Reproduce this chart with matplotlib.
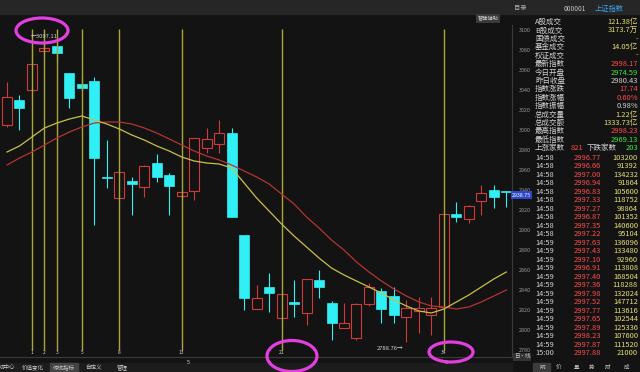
import matplotlib
matplotlib.use("Agg")
import matplotlib.pyplot as plt
from matplotlib.patches import Rectangle, Ellipse
from matplotlib.transforms import blended_transform_factory

plt.rcParams['font.family'] = ['Noto Sans CJK SC', 'DejaVu Sans']

# daily candles, index relative to the fibonacci base day
days = list(range(-1, 40))
opens = [3006, 3031, 3041, 3080, 3085, 3058, 3047, 3050, 2954, 2933,
         2950, 2944, 2968, 2956, 2935, 2940, 2983, 2987, 2998, 2896,
         2822, 2844, 2813, 2829, 2818, 2851, 2828, 2803, 2793, 2827,
         2840, 2835, 2814, 2820, 2816, 2824, 2917, 2912, 2930, 2941, 2939]
highs = [3049, 3036, 3097.11, 3090, 3088, 3058, 3054, 3054, 2991, 2962,
         2954, 2966, 2977, 2958, 2940, 2993, 3003, 3011, 3003, 2896,
         2846, 2858, 2837, 2851, 2852, 2861, 2830, 2828, 2828, 2848,
         2843, 2844, 2831, 2834, 2834, 2917, 2929, 2926, 2946, 2946, 2940]
lows = [3004, 3001, 3040, 3078, 3069, 3023, 3040, 2906, 2943, 2928,
        2916, 2934, 2949, 2916, 2932, 2931, 2978, 2978, 2914, 2821,
        2822, 2819, 2810, 2814, 2806, 2833, 2791, 2803, 2791, 2825,
        2808, 2808, 2788.76, 2798, 2796, 2822, 2909, 2908, 2916, 2923, 2924]
closes = [3034, 3023, 3067, 3083, 3078, 3033, 3043, 2973, 2953, 2959,
          2947, 2965, 2954, 2945, 2939, 2993, 2992, 2998, 2914, 2833,
          2833, 2838, 2837, 2827, 2852, 2844, 2808, 2808, 2827, 2844,
          2822, 2816, 2823, 2823, 2823, 2917, 2914, 2925, 2938, 2934, 2938.75]

ma_short = [2979, 2985, 2994, 3003, 3008, 3012, 3015, 3011, 3007, 3002,
            2996, 2991, 2985, 2980, 2974, 2970, 2968, 2967, 2963, 2948,
            2933, 2920, 2907, 2895, 2884, 2873, 2863, 2856, 2850, 2844,
            2838, 2831, 2825, 2820, 2818, 2822, 2829, 2836, 2844, 2852, 2859]
ma_long = [2966, 2973, 2979, 2986, 2993, 2999, 3004, 3008, 3009, 3009,
           3007, 3003, 2998, 2992, 2986, 2980, 2975, 2971, 2966, 2960,
           2954, 2947, 2937, 2927, 2914, 2903, 2891, 2881, 2869, 2859,
           2850, 2842, 2835, 2829, 2825, 2824, 2822, 2824, 2829, 2835, 2841]

fib_days = [1, 2, 3, 5, 8, 13, 21, 34]
price_ticks = list(range(3100, 2770, -20))
month_marks = [(13.5, '5'), (34.2, '6')]

info_labels = ['A股成交', 'B股成交', '国债成交', '基金成交', '权证成交', '最新指数',
               '今日开盘', '昨日收盘', '指数涨跌', '指数涨幅', '指数振幅', '总成交量',
               '总成交额', '最高指数', '最低指数']
info_values = ['121.38亿', '3173.7万', '-', '14.05亿', '-', '2998.17', '2974.59',
               '2980.43', '17.74', '0.60%', '0.98%', '1.22亿', '1333.73亿',
               '2998.23', '2969.13']
info_kinds = ['v', 'v', 'v', 'v', 'v', 'up', 'dn', 'n', 'up', 'up', 'n', 'v', 'v', 'up', 'dn']

tick_times = ['14:58'] * 10 + ['14:59'] * 13 + ['15:00']
tick_prices = ['2996.77', '2996.66', '2997.00', '2996.94', '2996.83', '2997.33',
               '2997.27', '2996.87', '2997.35', '2997.22', '2997.63', '2997.43',
               '2997.10', '2996.91', '2997.40', '2997.36', '2997.98', '2997.52',
               '2997.77', '2997.65', '2997.89', '2998.23', '2997.87', '2997.88']
tick_vols = ['103200', '91392', '134232', '91864', '105600', '118752', '98864',
             '101352', '140600', '95104', '136096', '133480', '92960', '113808',
             '168504', '118288', '132024', '147712', '113616', '102544', '125336',
             '107600', '111520', '21000']

W, H = 640, 372
BG = '#131313'
CYAN = '#30f0f6'
RED = '#d03a3a'
UPC = '#ff4a4a'
DNC = '#3ee83e'
YEL = '#e6de72'
TXT = '#d2d2d2'
colors = {'v': YEL, 'up': UPC, 'dn': DNC, 'n': TXT}
FS = 5.4

fig = plt.figure(figsize=(6.4, 3.72), dpi=100, facecolor=BG)


def ftext(px, py, s, **kw):
    kw.setdefault('va', 'center')
    kw.setdefault('fontsize', FS)
    kw.setdefault('color', TXT)
    return fig.text(px / W, 1 - py / H, s, **kw)


# header strip and bottom bars
fig.add_artist(Rectangle((0, 1 - 14 / H), 1, 14 / H, transform=fig.transFigure,
                         color='#262626', zorder=0))
fig.add_artist(Rectangle((0, 0), 512 / W, 9 / H, transform=fig.transFigure,
                         color='#1c1c1c', zorder=0))

ax = fig.add_axes([0, 1 - 357 / H, 512 / W, (357 - 25) / H])
ax.set_facecolor(BG)
ax.set_xlim(-1.56, 39.46)
ax.set_ylim(2774, 3106)
ax.set_xticks([])
ax.set_yticks([])
for s in ax.spines.values():
    s.set_visible(False)
ax.spines['bottom'].set_visible(True)
ax.spines['bottom'].set_color('#3a3a3a')
ax.spines['right'].set_visible(True)
ax.spines['right'].set_color('#3a3a3a')

# candles
bw = 0.8
for d, o, h, l, c in zip(days, opens, highs, lows, closes):
    lo, hi = min(o, c), max(o, c)
    if c > o:
        ax.vlines(d, hi, h, color=RED, lw=0.8, zorder=2)
        ax.vlines(d, l, lo, color=RED, lw=0.8, zorder=2)
        ax.add_patch(Rectangle((d - bw / 2, lo), bw, hi - lo, facecolor=BG,
                               edgecolor=RED, lw=0.8, zorder=2))
    else:
        ax.vlines(d, l, h, color=CYAN, lw=0.8, zorder=2)
        ax.add_patch(Rectangle((d - bw / 2, lo), bw, max(hi - lo, 0.8),
                               facecolor=CYAN, edgecolor=CYAN, lw=0.5, zorder=2))

# moving averages
ax.plot(days, ma_long, color='#b83232', lw=0.9, zorder=4)
ax.plot(days, ma_short, color='#c8c048', lw=0.9, zorder=4)

# fibonacci time zones
for f in fib_days:
    ax.vlines(f, 2781, 3102, color='#a8a83a', lw=1.0, zorder=3)
    ax.text(f, 2778, str(f), color=TXT, fontsize=3.5, ha='center', va='center', zorder=5)

# high / low markers
ax.text(0.9, 3095, '\u21903097.11', color=TXT, fontsize=4.2, ha='left', va='center')
ax.text(30.75, 2782, '2788.76\u2192', color=TXT, fontsize=4.2, ha='right', va='center')

# price axis labels
tr = blended_transform_factory(ax.transAxes, ax.transData)
for p in price_ticks:
    ax.text(1.037, p, str(p), transform=tr, color='#9a9a9a', fontsize=3.9,
            ha='right', va='center', clip_on=False)
ax.text(1.0, closes[-1] - 3, '%.2f' % closes[-1], transform=tr, color='white',
        fontsize=3.8, ha='left', va='center', clip_on=False,
        bbox=dict(boxstyle='square,pad=0.25', fc='#2a48c8', ec='none'))

trm = blended_transform_factory(ax.transData, ax.transAxes)
for x, m in month_marks:
    ax.text(x, -0.018, m, transform=trm, color=TXT, fontsize=4, ha='center',
            va='center', clip_on=False)

# top labels
ftext(488, 18.5, '智能辅助', fontsize=3.8, ha='center',
      bbox=dict(boxstyle='square,pad=0.3', fc='#3a3a3a', ec='none'))
ftext(520, 8, '目录', fontsize=4.5, ha='center', color='#b0b0b0')
ftext(575, 9, '000001', fontsize=4.8, ha='center', color='#c0c0c0')
ftext(609, 9, '上证指数', fontsize=5.2, ha='center', color='#3aa2ee')

# info table
for i, (lab, val, kd) in enumerate(zip(info_labels, info_values, info_kinds)):
    y = 22 + 8.42 * i
    ftext(535, y, lab, ha='left')
    ftext(638, y, val, ha='right', color=colors[kd])
y = 22 + 8.42 * 15
ftext(535, y, '上涨家数', ha='left')
ftext(583, y, '821', ha='right', color=UPC)
ftext(587, y, '下跌家数', ha='left')
ftext(638, y, '203', ha='right', color=DNC)

for i, (t, p, v) in enumerate(zip(tick_times, tick_prices, tick_vols)):
    y = 158 + 8.48 * i
    ftext(535, y, t, ha='left')
    ftext(601, y, p, ha='right', color=UPC)
    ftext(638, y, v, ha='right', color=YEL)

# bottom tabs
fig.add_artist(Rectangle((50 / W, 0), 28 / W, 9 / H, transform=fig.transFigure,
                         color='#444444', zorder=1))
for x, s in [(7, '切中心'), (33, '价值变化'), (64, '传统指标'), (93, '自定义'), (122, '管理')]:
    ftext(x, 367.5, s, fontsize=4, ha='center', color='#c8c8c8')
ftext(522, 357, '日·线', fontsize=4, ha='center', color='#c8c8c8',
      bbox=dict(boxstyle='square,pad=0.2', fc='#333333', ec='none'))
fig.add_artist(Rectangle((533 / W, 0), 17 / W, 9 / H, transform=fig.transFigure,
                         color='#3c3c3c', zorder=1))
for x, s in [(542, '明'), (558, '价'), (577, '量'), (591, '势'), (608, '财'), (627, '成')]:
    ftext(x, 367.5, s, fontsize=4, ha='center', color='#c0c0c0')

# highlight ellipses
for cx, cy, w, h in [(42, 30.5, 52, 25), (292, 356, 50, 31), (451, 352, 44, 20)]:
    fig.add_artist(Ellipse((cx / W, 1 - cy / H), w / W, h / H, transform=fig.transFigure,
                           fill=False, ec='#e23ee0', lw=2.3, zorder=10))

fig.savefig('out.png', dpi=100, facecolor=BG)
